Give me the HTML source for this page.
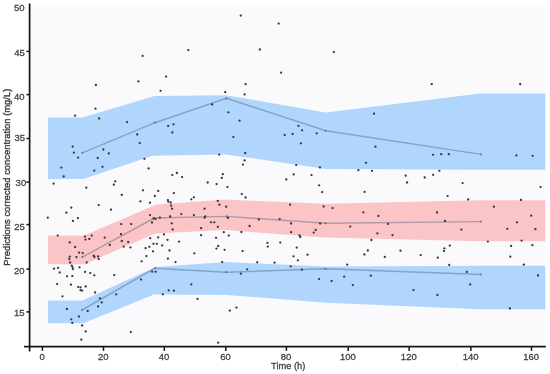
<!DOCTYPE html>
<html><head><meta charset="utf-8">
<style>
html,body{margin:0;padding:0;background:#fff;width:550px;height:374px;overflow:hidden}
svg{display:block}
text{font-family:"Liberation Sans",sans-serif;fill:#404040;stroke:#404040;stroke-width:0.28px}
</style></head><body>
<svg width="550" height="374" viewBox="0 0 550 374">
<rect x="0" y="0" width="550" height="374" fill="#ffffff"/>
<rect x="30" y="5.5" width="515.3" height="341" fill="#fafafd"/>
<polygon fill="#b1d6fd" points="48,117.5 82.5,117.5 154.5,96.0 226.2,95.2 325.6,112.4 480,93.5 545.3,93.5 545.3,169.8 479.5,169.8 326,168.9 226,154.4 152.8,155.8 83.2,179.1 48,179.1"/>
<polygon fill="#fbc5c8" points="48,235.6 84,235.6 156.5,204.6 226,199.6 324,203.8 480,200.3 545.3,200.3 545.3,241.2 480,241.2 324,237.6 226,230.1 155,233.4 84.5,264.3 48,264.3"/>
<polygon fill="#b1d6fd" points="48,300.4 82.5,300.4 155.5,266.9 226,262.0 325.5,266.6 480,265.8 545.3,265.8 545.3,309.3 480,309.3 325.5,302.8 226,294.9 154,294.4 83.3,323.2 48,323.2"/>
<g fill="none" stroke="#35486e" stroke-opacity="0.36" stroke-width="1.45" stroke-linejoin="round">
<polyline points="82.3,152.9 155,122.7 226.5,98.3 325.8,130.8 481.1,154.4"/>
<polyline points="82.3,257.1 154.5,218 227,216.4 325.5,223.2 481.1,221.6"/>
<polyline points="82.1,310 155,268.2 226.3,272.2 325.5,268.8 481.1,274.5"/>
</g>
<g fill="#35486e" fill-opacity="0.5"><circle cx="82.3" cy="152.9" r="1.1"/><circle cx="155" cy="122.7" r="1.1"/><circle cx="226.5" cy="98.3" r="1.1"/><circle cx="325.8" cy="130.8" r="1.1"/><circle cx="481.1" cy="154.4" r="1.1"/><circle cx="82.3" cy="257.1" r="1.1"/><circle cx="154.5" cy="218" r="1.1"/><circle cx="227" cy="216.4" r="1.1"/><circle cx="325.5" cy="223.2" r="1.1"/><circle cx="481.1" cy="221.6" r="1.1"/><circle cx="82.1" cy="310" r="1.1"/><circle cx="155" cy="268.2" r="1.1"/><circle cx="226.3" cy="272.2" r="1.1"/><circle cx="325.5" cy="268.8" r="1.1"/><circle cx="481.1" cy="274.5" r="1.1"/></g>
<g fill="#363638"><circle cx="240.8" cy="15.6" r="1.15"/><circle cx="188.3" cy="50.1" r="1.15"/><circle cx="142.6" cy="55.9" r="1.15"/><circle cx="278.7" cy="23.6" r="1.15"/><circle cx="259.8" cy="49.5" r="1.15"/><circle cx="333.8" cy="52.1" r="1.15"/><circle cx="281.1" cy="72.7" r="1.15"/><circle cx="95.9" cy="85.0" r="1.15"/><circle cx="138.4" cy="81.4" r="1.15"/><circle cx="95.5" cy="108.7" r="1.15"/><circle cx="75.1" cy="115.7" r="1.15"/><circle cx="99.1" cy="118.5" r="1.15"/><circle cx="127.0" cy="122.1" r="1.15"/><circle cx="137.2" cy="134.5" r="1.15"/><circle cx="139.8" cy="143.1" r="1.15"/><circle cx="72.7" cy="146.7" r="1.15"/><circle cx="103.3" cy="149.5" r="1.15"/><circle cx="166.1" cy="76.6" r="1.15"/><circle cx="160.6" cy="90.8" r="1.15"/><circle cx="245.6" cy="84.2" r="1.15"/><circle cx="225.2" cy="92.2" r="1.15"/><circle cx="244.6" cy="94.4" r="1.15"/><circle cx="212.1" cy="104.5" r="1.15"/><circle cx="228.4" cy="112.3" r="1.15"/><circle cx="239.6" cy="120.7" r="1.15"/><circle cx="168.1" cy="125.9" r="1.15"/><circle cx="173.5" cy="124.3" r="1.15"/><circle cx="172.3" cy="132.5" r="1.15"/><circle cx="233.4" cy="137.1" r="1.15"/><circle cx="298.5" cy="125.9" r="1.15"/><circle cx="302.1" cy="130.3" r="1.15"/><circle cx="284.7" cy="134.9" r="1.15"/><circle cx="292.6" cy="134.0" r="1.15"/><circle cx="316.7" cy="133.3" r="1.15"/><circle cx="300.9" cy="143.3" r="1.15"/><circle cx="431.7" cy="84.2" r="1.15"/><circle cx="374.0" cy="113.7" r="1.15"/><circle cx="375.4" cy="146.7" r="1.15"/><circle cx="520.2" cy="84.2" r="1.15"/><circle cx="73.9" cy="152.6" r="1.15"/><circle cx="108.8" cy="153.4" r="1.15"/><circle cx="78.1" cy="157.6" r="1.15"/><circle cx="97.7" cy="158.0" r="1.15"/><circle cx="61.3" cy="167.6" r="1.15"/><circle cx="102.5" cy="166.8" r="1.15"/><circle cx="94.3" cy="170.6" r="1.15"/><circle cx="63.7" cy="176.5" r="1.15"/><circle cx="53.6" cy="183.7" r="1.15"/><circle cx="86.3" cy="187.7" r="1.15"/><circle cx="115.2" cy="181.3" r="1.15"/><circle cx="113.8" cy="184.7" r="1.15"/><circle cx="121.8" cy="194.9" r="1.15"/><circle cx="98.7" cy="205.1" r="1.15"/><circle cx="111.0" cy="209.7" r="1.15"/><circle cx="71.3" cy="207.7" r="1.15"/><circle cx="66.3" cy="212.7" r="1.15"/><circle cx="47.8" cy="217.7" r="1.15"/><circle cx="77.9" cy="218.1" r="1.15"/><circle cx="72.9" cy="220.9" r="1.15"/><circle cx="140.4" cy="201.4" r="1.15"/><circle cx="121.2" cy="224.1" r="1.15"/><circle cx="131.2" cy="224.1" r="1.15"/><circle cx="144.4" cy="158.8" r="1.15"/><circle cx="219.2" cy="154.6" r="1.15"/><circle cx="245.2" cy="153.0" r="1.15"/><circle cx="244.6" cy="160.4" r="1.15"/><circle cx="243.0" cy="164.6" r="1.15"/><circle cx="148.6" cy="168.4" r="1.15"/><circle cx="172.3" cy="175.1" r="1.15"/><circle cx="176.9" cy="173.0" r="1.15"/><circle cx="182.1" cy="177.1" r="1.15"/><circle cx="222.8" cy="174.2" r="1.15"/><circle cx="221.8" cy="177.9" r="1.15"/><circle cx="207.7" cy="182.5" r="1.15"/><circle cx="216.6" cy="184.1" r="1.15"/><circle cx="227.4" cy="187.1" r="1.15"/><circle cx="143.0" cy="190.3" r="1.15"/><circle cx="158.2" cy="190.9" r="1.15"/><circle cx="173.9" cy="193.1" r="1.15"/><circle cx="154.8" cy="195.9" r="1.15"/><circle cx="241.8" cy="194.1" r="1.15"/><circle cx="245.6" cy="197.5" r="1.15"/><circle cx="193.9" cy="197.3" r="1.15"/><circle cx="191.3" cy="199.3" r="1.15"/><circle cx="167.9" cy="200.1" r="1.15"/><circle cx="168.3" cy="201.7" r="1.15"/><circle cx="170.7" cy="202.5" r="1.15"/><circle cx="150.0" cy="202.7" r="1.15"/><circle cx="217.8" cy="200.9" r="1.15"/><circle cx="219.4" cy="204.7" r="1.15"/><circle cx="226.2" cy="206.7" r="1.15"/><circle cx="171.1" cy="205.7" r="1.15"/><circle cx="172.1" cy="208.7" r="1.15"/><circle cx="204.5" cy="208.7" r="1.15"/><circle cx="150.0" cy="215.1" r="1.15"/><circle cx="181.3" cy="214.1" r="1.15"/><circle cx="193.9" cy="215.1" r="1.15"/><circle cx="170.1" cy="216.5" r="1.15"/><circle cx="205.3" cy="216.3" r="1.15"/><circle cx="204.5" cy="217.7" r="1.15"/><circle cx="153.6" cy="218.5" r="1.15"/><circle cx="155.6" cy="219.1" r="1.15"/><circle cx="159.8" cy="217.7" r="1.15"/><circle cx="228.0" cy="217.9" r="1.15"/><circle cx="152.0" cy="222.5" r="1.15"/><circle cx="171.7" cy="223.3" r="1.15"/><circle cx="210.9" cy="222.3" r="1.15"/><circle cx="214.3" cy="222.3" r="1.15"/><circle cx="296.2" cy="165.1" r="1.15"/><circle cx="319.9" cy="167.4" r="1.15"/><circle cx="358.4" cy="170.2" r="1.15"/><circle cx="293.7" cy="174.4" r="1.15"/><circle cx="311.5" cy="175.1" r="1.15"/><circle cx="286.3" cy="179.5" r="1.15"/><circle cx="319.1" cy="185.3" r="1.15"/><circle cx="322.1" cy="192.1" r="1.15"/><circle cx="290.1" cy="204.7" r="1.15"/><circle cx="323.7" cy="206.5" r="1.15"/><circle cx="332.6" cy="208.1" r="1.15"/><circle cx="258.8" cy="219.5" r="1.15"/><circle cx="279.7" cy="219.1" r="1.15"/><circle cx="291.1" cy="223.5" r="1.15"/><circle cx="320.1" cy="223.5" r="1.15"/><circle cx="433.1" cy="154.8" r="1.15"/><circle cx="441.2" cy="154.2" r="1.15"/><circle cx="448.8" cy="154.2" r="1.15"/><circle cx="366.0" cy="162.8" r="1.15"/><circle cx="372.0" cy="170.8" r="1.15"/><circle cx="405.7" cy="175.7" r="1.15"/><circle cx="407.1" cy="182.5" r="1.15"/><circle cx="424.7" cy="177.5" r="1.15"/><circle cx="433.1" cy="174.8" r="1.15"/><circle cx="439.4" cy="170.8" r="1.15"/><circle cx="462.6" cy="183.1" r="1.15"/><circle cx="364.6" cy="191.9" r="1.15"/><circle cx="447.6" cy="196.1" r="1.15"/><circle cx="468.2" cy="199.5" r="1.15"/><circle cx="363.4" cy="212.3" r="1.15"/><circle cx="378.4" cy="215.9" r="1.15"/><circle cx="437.0" cy="212.5" r="1.15"/><circle cx="445.0" cy="220.9" r="1.15"/><circle cx="388.1" cy="223.9" r="1.15"/><circle cx="516.4" cy="155.4" r="1.15"/><circle cx="532.6" cy="155.8" r="1.15"/><circle cx="540.6" cy="187.1" r="1.15"/><circle cx="521.0" cy="199.9" r="1.15"/><circle cx="493.9" cy="206.7" r="1.15"/><circle cx="531.2" cy="215.7" r="1.15"/><circle cx="517.0" cy="222.3" r="1.15"/><circle cx="57.7" cy="235.6" r="1.15"/><circle cx="84.9" cy="236.6" r="1.15"/><circle cx="91.7" cy="235.6" r="1.15"/><circle cx="85.5" cy="239.6" r="1.15"/><circle cx="89.3" cy="239.0" r="1.15"/><circle cx="104.7" cy="237.6" r="1.15"/><circle cx="121.0" cy="234.2" r="1.15"/><circle cx="121.8" cy="241.0" r="1.15"/><circle cx="128.2" cy="242.0" r="1.15"/><circle cx="69.7" cy="242.4" r="1.15"/><circle cx="109.8" cy="245.0" r="1.15"/><circle cx="123.8" cy="246.6" r="1.15"/><circle cx="130.4" cy="247.4" r="1.15"/><circle cx="75.1" cy="247.0" r="1.15"/><circle cx="79.1" cy="252.7" r="1.15"/><circle cx="82.7" cy="253.1" r="1.15"/><circle cx="69.7" cy="256.7" r="1.15"/><circle cx="76.5" cy="257.1" r="1.15"/><circle cx="93.7" cy="255.7" r="1.15"/><circle cx="94.5" cy="257.1" r="1.15"/><circle cx="98.1" cy="256.5" r="1.15"/><circle cx="98.7" cy="259.1" r="1.15"/><circle cx="69.3" cy="259.1" r="1.15"/><circle cx="70.1" cy="262.5" r="1.15"/><circle cx="86.7" cy="262.5" r="1.15"/><circle cx="71.7" cy="265.7" r="1.15"/><circle cx="72.5" cy="267.1" r="1.15"/><circle cx="54.0" cy="268.7" r="1.15"/><circle cx="58.1" cy="267.9" r="1.15"/><circle cx="72.9" cy="269.1" r="1.15"/><circle cx="79.5" cy="267.3" r="1.15"/><circle cx="59.7" cy="272.5" r="1.15"/><circle cx="85.1" cy="271.9" r="1.15"/><circle cx="90.3" cy="273.1" r="1.15"/><circle cx="94.3" cy="275.3" r="1.15"/><circle cx="67.1" cy="276.3" r="1.15"/><circle cx="72.3" cy="276.1" r="1.15"/><circle cx="114.2" cy="275.1" r="1.15"/><circle cx="57.1" cy="284.1" r="1.15"/><circle cx="70.9" cy="284.7" r="1.15"/><circle cx="78.1" cy="287.1" r="1.15"/><circle cx="80.5" cy="287.3" r="1.15"/><circle cx="85.7" cy="286.5" r="1.15"/><circle cx="80.5" cy="290.1" r="1.15"/><circle cx="82.1" cy="290.7" r="1.15"/><circle cx="95.1" cy="292.5" r="1.15"/><circle cx="116.2" cy="294.3" r="1.15"/><circle cx="62.5" cy="296.3" r="1.15"/><circle cx="99.9" cy="298.3" r="1.15"/><circle cx="172.7" cy="229.4" r="1.15"/><circle cx="201.1" cy="228.2" r="1.15"/><circle cx="217.8" cy="226.8" r="1.15"/><circle cx="249.6" cy="226.0" r="1.15"/><circle cx="223.8" cy="232.2" r="1.15"/><circle cx="241.4" cy="232.0" r="1.15"/><circle cx="164.0" cy="234.4" r="1.15"/><circle cx="201.1" cy="235.2" r="1.15"/><circle cx="228.8" cy="235.6" r="1.15"/><circle cx="150.2" cy="238.2" r="1.15"/><circle cx="158.2" cy="237.4" r="1.15"/><circle cx="167.5" cy="239.8" r="1.15"/><circle cx="216.0" cy="237.8" r="1.15"/><circle cx="153.4" cy="243.8" r="1.15"/><circle cx="156.8" cy="243.8" r="1.15"/><circle cx="162.2" cy="245.4" r="1.15"/><circle cx="179.1" cy="241.6" r="1.15"/><circle cx="149.4" cy="246.8" r="1.15"/><circle cx="145.6" cy="248.2" r="1.15"/><circle cx="218.2" cy="246.0" r="1.15"/><circle cx="216.4" cy="248.6" r="1.15"/><circle cx="224.6" cy="249.8" r="1.15"/><circle cx="242.6" cy="251.1" r="1.15"/><circle cx="153.0" cy="251.3" r="1.15"/><circle cx="169.5" cy="250.5" r="1.15"/><circle cx="194.3" cy="253.3" r="1.15"/><circle cx="146.4" cy="256.1" r="1.15"/><circle cx="167.9" cy="258.7" r="1.15"/><circle cx="141.6" cy="261.3" r="1.15"/><circle cx="175.5" cy="262.1" r="1.15"/><circle cx="222.2" cy="262.1" r="1.15"/><circle cx="247.2" cy="269.3" r="1.15"/><circle cx="152.2" cy="271.7" r="1.15"/><circle cx="155.6" cy="271.7" r="1.15"/><circle cx="240.8" cy="273.7" r="1.15"/><circle cx="141.0" cy="279.5" r="1.15"/><circle cx="191.3" cy="284.3" r="1.15"/><circle cx="168.7" cy="290.3" r="1.15"/><circle cx="173.9" cy="290.7" r="1.15"/><circle cx="162.8" cy="294.3" r="1.15"/><circle cx="197.5" cy="298.9" r="1.15"/><circle cx="291.1" cy="232.2" r="1.15"/><circle cx="299.5" cy="235.4" r="1.15"/><circle cx="300.3" cy="237.0" r="1.15"/><circle cx="313.7" cy="232.6" r="1.15"/><circle cx="315.7" cy="230.0" r="1.15"/><circle cx="350.2" cy="226.6" r="1.15"/><circle cx="267.4" cy="242.8" r="1.15"/><circle cx="267.8" cy="246.6" r="1.15"/><circle cx="280.3" cy="242.6" r="1.15"/><circle cx="296.7" cy="247.6" r="1.15"/><circle cx="293.5" cy="256.3" r="1.15"/><circle cx="307.5" cy="254.7" r="1.15"/><circle cx="297.9" cy="260.3" r="1.15"/><circle cx="257.2" cy="262.3" r="1.15"/><circle cx="274.6" cy="262.7" r="1.15"/><circle cx="290.7" cy="266.3" r="1.15"/><circle cx="347.2" cy="264.7" r="1.15"/><circle cx="301.9" cy="269.7" r="1.15"/><circle cx="319.1" cy="279.1" r="1.15"/><circle cx="331.6" cy="280.9" r="1.15"/><circle cx="344.2" cy="276.7" r="1.15"/><circle cx="352.8" cy="285.1" r="1.15"/><circle cx="377.4" cy="233.4" r="1.15"/><circle cx="392.5" cy="235.2" r="1.15"/><circle cx="461.4" cy="229.6" r="1.15"/><circle cx="371.4" cy="240.0" r="1.15"/><circle cx="367.8" cy="250.5" r="1.15"/><circle cx="364.4" cy="254.5" r="1.15"/><circle cx="384.8" cy="256.9" r="1.15"/><circle cx="400.5" cy="250.7" r="1.15"/><circle cx="420.7" cy="255.1" r="1.15"/><circle cx="437.8" cy="257.7" r="1.15"/><circle cx="444.4" cy="248.4" r="1.15"/><circle cx="444.0" cy="251.1" r="1.15"/><circle cx="449.8" cy="245.6" r="1.15"/><circle cx="449.2" cy="264.9" r="1.15"/><circle cx="370.8" cy="275.7" r="1.15"/><circle cx="466.8" cy="271.9" r="1.15"/><circle cx="413.5" cy="290.1" r="1.15"/><circle cx="437.4" cy="294.9" r="1.15"/><circle cx="470.2" cy="284.4" r="1.15"/><circle cx="507.3" cy="228.8" r="1.15"/><circle cx="535.4" cy="229.2" r="1.15"/><circle cx="487.9" cy="241.6" r="1.15"/><circle cx="521.6" cy="240.6" r="1.15"/><circle cx="511.1" cy="246.0" r="1.15"/><circle cx="532.4" cy="245.2" r="1.15"/><circle cx="510.3" cy="256.7" r="1.15"/><circle cx="523.8" cy="264.7" r="1.15"/><circle cx="538.0" cy="275.5" r="1.15"/><circle cx="101.7" cy="302.4" r="1.15"/><circle cx="98.1" cy="306.4" r="1.15"/><circle cx="66.9" cy="309.0" r="1.15"/><circle cx="87.7" cy="311.0" r="1.15"/><circle cx="78.9" cy="316.5" r="1.15"/><circle cx="71.3" cy="319.3" r="1.15"/><circle cx="72.3" cy="322.9" r="1.15"/><circle cx="82.1" cy="325.5" r="1.15"/><circle cx="85.7" cy="331.5" r="1.15"/><circle cx="81.3" cy="339.7" r="1.15"/><circle cx="130.8" cy="332.1" r="1.15"/><circle cx="229.8" cy="310.6" r="1.15"/><circle cx="236.4" cy="307.6" r="1.15"/><circle cx="218.2" cy="342.7" r="1.15"/><circle cx="509.9" cy="308.4" r="1.15"/></g>
<g stroke="#141414" fill="none">
<line x1="29.6" y1="3.5" x2="29.6" y2="351.6" stroke-width="1.7"/>
<line x1="24" y1="346.6" x2="545.8" y2="346.6" stroke-width="1.9"/>
<line x1="26.4" y1="51.4" x2="29.6" y2="51.4" stroke-width="1.5"/>
<line x1="26.4" y1="94.6" x2="29.6" y2="94.6" stroke-width="1.5"/>
<line x1="26.4" y1="138.5" x2="29.6" y2="138.5" stroke-width="1.5"/>
<line x1="26.4" y1="182.1" x2="29.6" y2="182.1" stroke-width="1.5"/>
<line x1="26.4" y1="224.6" x2="29.6" y2="224.6" stroke-width="1.5"/>
<line x1="26.4" y1="269.1" x2="29.6" y2="269.1" stroke-width="1.5"/>
<line x1="26.4" y1="311.9" x2="29.6" y2="311.9" stroke-width="1.5"/>
<line x1="42.4" y1="346.6" x2="42.4" y2="350.9" stroke-width="1.5"/>
<line x1="103.5" y1="346.6" x2="103.5" y2="350.9" stroke-width="1.5"/>
<line x1="164.3" y1="346.6" x2="164.3" y2="350.9" stroke-width="1.5"/>
<line x1="225.8" y1="346.6" x2="225.8" y2="350.9" stroke-width="1.5"/>
<line x1="286.4" y1="346.6" x2="286.4" y2="350.9" stroke-width="1.5"/>
<line x1="348.2" y1="346.6" x2="348.2" y2="350.9" stroke-width="1.5"/>
<line x1="409.1" y1="346.6" x2="409.1" y2="350.9" stroke-width="1.5"/>
<line x1="470.9" y1="346.6" x2="470.9" y2="350.9" stroke-width="1.5"/>
<line x1="531.5" y1="346.6" x2="531.5" y2="350.9" stroke-width="1.5"/>
</g>
<g font-size="9.5" text-anchor="end">
<text x="24.6" y="10.7">50</text>
<text x="24.8" y="55.8">45</text>
<text x="24.6" y="99.5">40</text>
<text x="25.0" y="140.9">35</text>
<text x="26.2" y="185.8">30</text>
<text x="24.8" y="229.9">25</text>
<text x="24.6" y="273.7">20</text>
<text x="24.6" y="315.7">15</text>
</g>
<g font-size="9.5" text-anchor="middle">
<text x="42.1" y="360">0</text>
<text x="103.2" y="360">20</text>
<text x="164.0" y="360">40</text>
<text x="225.5" y="360">60</text>
<text x="286.1" y="360">80</text>
<text x="347.9" y="360">100</text>
<text x="408.8" y="360">120</text>
<text x="470.6" y="360">140</text>
<text x="531.2" y="360">160</text>
</g>
<text x="288.2" y="369.3" font-size="9.3" text-anchor="middle">Time (h)</text>
<text transform="translate(10.4,177.2) rotate(-90)" font-size="9.3" style="stroke-width:0.4px" text-anchor="middle" textLength="177" lengthAdjust="spacingAndGlyphs">Predictions corrected concentration (mg/L)</text>
</svg>
</body></html>
